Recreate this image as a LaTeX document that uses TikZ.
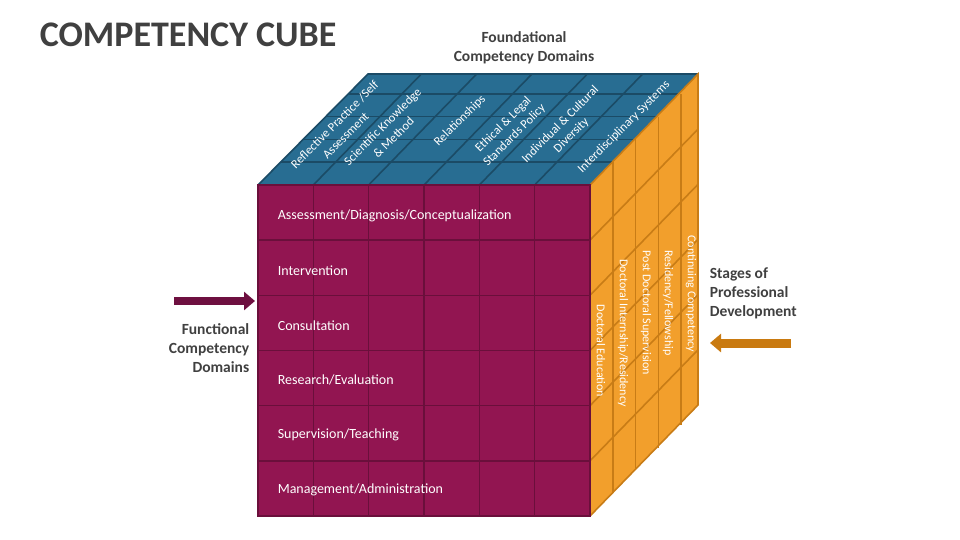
\documentclass[tikz,border=0pt]{standalone}
\usepackage{fontspec}
\setmainfont{Carlito}
\usepackage{xcolor}
\usepackage{tikz}
\usetikzlibrary{arrows.meta, positioning}

\definecolor{cubeFront}{HTML}{921551}
\definecolor{cubeFrontLine}{HTML}{6A0F3B}
\definecolor{cubeTop}{HTML}{286D92}
\definecolor{cubeTopLine}{HTML}{1B4B66}
\definecolor{cubeSide}{HTML}{F29F2C}
\definecolor{cubeSideLine}{HTML}{C87C16}
\definecolor{titleGray}{HTML}{404040}
\definecolor{arrowMaroon}{HTML}{6E1040}
\definecolor{arrowOrange}{HTML}{C97A10}

\begin{document}
\begin{tikzpicture}[x=1pt, y=-1pt, line width=1.6pt]
    \tikzstyle{front label}=[anchor=west, text=white, inner sep=0pt, font=\fontsize{14}{16}\selectfont]
    \tikzstyle{top label}=[rotate=45, text=white, align=center, inner sep=0pt, font=\fontsize{12.4}{15.5}\selectfont]
    \tikzstyle{side label}=[rotate=-90, text=white, inner sep=0pt, font=\fontsize{12}{14}\selectfont]
    \tikzstyle{axis label}=[text=titleGray, inner sep=0pt, font=\bfseries\fontsize{15.5}{19}\selectfont]
    \tikzstyle{big arrow}=[line width=8pt, -{Triangle[length=11pt, width=18pt]}]

    \useasboundingbox (0,0) rectangle (960,540);

    % --- CORNERS ---
    \coordinate (ftl) at (258,185);   % front top left
    \coordinate (ftr) at (590,185);   % front top right
    \coordinate (fbl) at (258,516);   % front bottom left
    \coordinate (fbr) at (590,516);   % front bottom right
    \coordinate (btl) at (368,74);    % back top left
    \coordinate (btr) at (698,74);    % back top right
    \coordinate (bbr) at (698,405);   % back bottom right

    % --- TOP FACE (Foundational) ---
    \fill[cubeTop] (ftl) -- (btl) -- (btr) -- (ftr) -- cycle;
    \foreach \d in {1,...,4}
        \draw[cubeTopLine] (258+22.8*\d,185-22.8*\d) -- (590+22.8*\d,185-22.8*\d);
    \foreach \k in {1,...,5}
        \draw[cubeTopLine] (258+55.33*\k,185) -- (366+55.33*\k,74);
    \draw[cubeTopLine] (ftl) -- (btl) -- (btr);

    % --- RIGHT FACE (Stages) ---
    \fill[cubeSide] (ftr) -- (btr) -- (bbr) -- (fbr) -- cycle;
    \foreach \d in {1,...,4}
        \draw[cubeSideLine] (590+22.8*\d,185-22.8*\d) -- (590+22.8*\d,516-22.8*\d);
    \foreach \k in {1,...,5}
        \draw[cubeSideLine] (590,185+55.17*\k) -- (698,74+55.17*\k);
    \draw[cubeSideLine] (ftr) -- (btr) -- (bbr) -- (fbr);

    % --- FRONT FACE (Functional) ---
    \fill[cubeFront] (ftl) rectangle (fbr);
    \foreach \k in {1,...,5} {
        \draw[cubeFrontLine] (258+55.33*\k,185) -- (258+55.33*\k,516);
        \draw[cubeFrontLine] (258,185+55.17*\k) -- (590,185+55.17*\k);
    }
    \draw[cubeFrontLine] (ftl) rectangle (fbr);

    % --- FRONT LABELS ---
    \foreach \lbl [count=\i] in {Assessment/Diagnosis/Conceptualization, Intervention,
            Consultation, Research/Evaluation, Supervision/Teaching, Management/Administration}
        \node[front label] (fd\i) at (277,216+54.8*\i-54.8) {\lbl};

    % --- TOP LABELS ---
    \node[top label] (reflect) at (340,130) {Reflective Practice /Self\\Assessment};
    \node[top label] (science) at (388,132) {Scientific Knowledge\\\& Method};
    \node[top label] (relation) at (460,121) {Relationships};
    \node[top label] (ethics) at (509,130) {Ethical \& Legal\\Standards Policy};
    \node[top label] (diversity) at (566,130) {Individual \& Cultural\\Diversity};
    \node[top label] (interdisc) at (624,127) {Interdisciplinary Systems};

    % --- SIDE LABELS ---
    \node[side label] (doced) at (601,351) {Doctoral Education};
    \node[side label] (intern) at (623,333) {Doctoral Internship/Residency};
    \node[side label] (postdoc) at (646,313) {Post Doctoral Supervision};
    \node[side label] (resfel) at (668,303) {Residency/Fellowship};
    \node[side label] (contin) at (691,294) {Continuing Competency};

    % --- TITLE AND AXES ---
    \node[anchor=west, text=titleGray, inner sep=0pt, font=\bfseries\fontsize{36}{40}\selectfont]
        (title) at (39,35) {COMPETENCY CUBE};
    \node[axis label, align=center] (found) at (524,47.5) {Foundational\\Competency Domains};
    \node[axis label, align=right, anchor=east] (funct) at (250,348) {Functional\\Competency\\Domains};
    \node[axis label, align=left, anchor=west] (stages) at (709,293) {Stages of\\Professional\\Development};

    % --- ARROWS ---
    \coordinate (functTail) at (174,301);
    \coordinate (functTip) at (255,301);
    \coordinate (stagesTail) at (791,343);
    \coordinate (stagesTip) at (710,343);
    \draw[big arrow, arrowMaroon] (functTail) -- (functTip);
    \draw[big arrow, arrowOrange, line width=9pt] (stagesTail) -- (stagesTip);

\end{tikzpicture}
\end{document}
